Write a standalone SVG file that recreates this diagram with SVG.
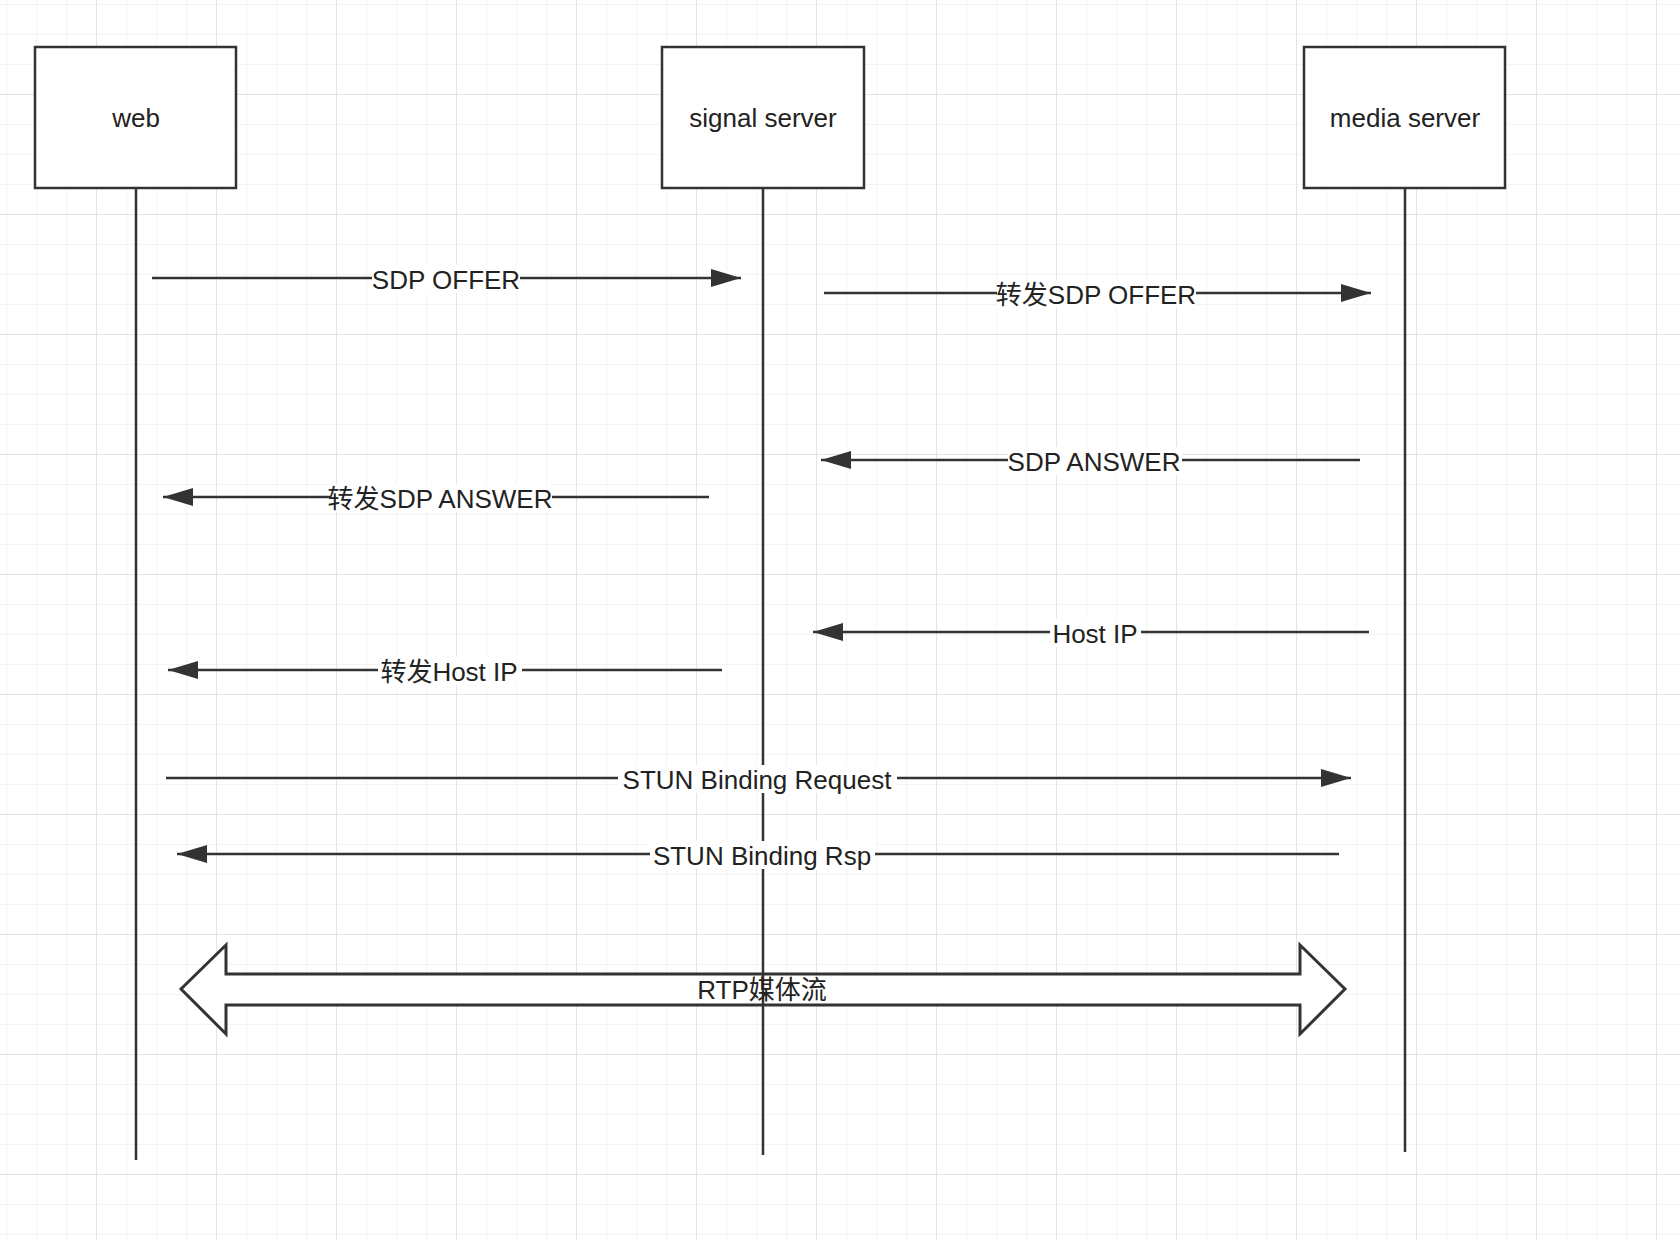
<svg xmlns="http://www.w3.org/2000/svg" width="1680" height="1240" viewBox="0 0 1680 1240">
<defs>
<pattern id="minor" width="30" height="30" patternUnits="userSpaceOnUse" x="6" y="4"><path d="M0 0H30M0 0V30" fill="none" stroke="#f1f1f1" stroke-width="1.5"/></pattern>
<pattern id="major" width="120" height="120" patternUnits="userSpaceOnUse" x="96" y="94"><path d="M0 0H120M0 0V120" fill="none" stroke="#e4e4e4" stroke-width="2"/></pattern>
<marker id="ah" viewBox="0 0 30 20" refX="30" refY="10" markerWidth="30" markerHeight="20" markerUnits="userSpaceOnUse" orient="auto"><path d="M0 1L30 10L0 19Z" fill="#333"/></marker>
</defs>
<style>
.box{fill:#fff;stroke:#333;stroke-width:2.5}
.life{stroke:#333;stroke-width:2.5;fill:none}
.msg{stroke:#333;stroke-width:2.5;fill:none;marker-end:url(#ah)}
.t{font-family:"Liberation Sans","Noto Sans CJK SC",sans-serif;font-size:26px;fill:#222;text-anchor:middle;dominant-baseline:central}
.lb{font-family:"Liberation Sans","Noto Sans CJK SC",sans-serif;font-size:26px;fill:#222;text-anchor:middle;dominant-baseline:central}
.bg{fill:#fff}
</style>
<rect width="1680" height="1240" fill="#fff"/>
<rect width="1680" height="1240" fill="url(#minor)"/>
<rect width="1680" height="1240" fill="url(#major)"/>
<g id="web"><rect class="box" x="35" y="47" width="201" height="141"/><text class="t" x="136" y="118">web</text><line class="life" x1="136" y1="188" x2="136" y2="1160"/></g>
<g id="signal"><rect class="box" x="662" y="47" width="202" height="141"/><text class="t" x="763" y="118">signal server</text><line class="life" x1="763" y1="188" x2="763" y2="1155"/></g>
<g id="media"><rect class="box" x="1304" y="47" width="201" height="141"/><text class="t" x="1405" y="118">media server</text><line class="life" x1="1405" y1="188" x2="1405" y2="1152"/></g>
<g id="connectors">
<line class="msg" x1="152" y1="278" x2="741" y2="278"/>
<rect class="bg" x="372" y="265" width="148" height="28"/><text class="lb" x="446" y="280">SDP OFFER</text>
<line class="msg" x1="824" y1="293" x2="1371" y2="293"/>
<rect class="bg" x="997" y="280" width="199" height="28"/><text class="lb" x="1096" y="295">转发SDP OFFER</text>
<line class="msg" x1="1360" y1="460" x2="821" y2="460"/>
<rect class="bg" x="1008" y="447" width="174" height="28"/><text class="lb" x="1094" y="462">SDP ANSWER</text>
<line class="msg" x1="709" y1="497" x2="163" y2="497"/>
<rect class="bg" x="330" y="484" width="222" height="28"/><text class="lb" x="440" y="499">转发SDP ANSWER</text>
<line class="msg" x1="1369" y1="632" x2="813" y2="632"/>
<rect class="bg" x="1050" y="619" width="91" height="28"/><text class="lb" x="1095" y="634">Host IP</text>
<line class="msg" x1="722" y1="670" x2="168" y2="670"/>
<rect class="bg" x="378" y="657" width="144" height="28"/><text class="lb" x="449" y="672">转发Host IP</text>
<line class="msg" x1="166" y1="778" x2="1351" y2="778"/>
<rect class="bg" x="618" y="765" width="279" height="28"/><text class="lb" x="757" y="780">STUN Binding Request</text>
<line class="msg" x1="1339" y1="854" x2="177" y2="854"/>
<rect class="bg" x="650" y="841" width="225" height="28"/><text class="lb" x="762" y="856">STUN Binding Rsp</text>
<path d="M181 989L226 945V974H1300V945L1345 989L1300 1034V1005H226V1034Z" fill="#fff" stroke="#333" stroke-width="3" stroke-linejoin="miter"/>
<line class="life" x1="763" y1="974" x2="763" y2="1005"/>
<text class="lb" x="762" y="990">RTP媒体流</text>
</g>
</svg>
